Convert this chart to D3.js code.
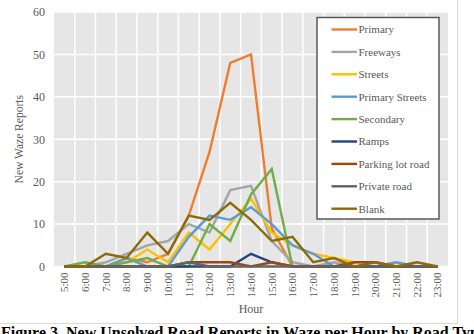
<!DOCTYPE html>
<html>
<head>
<meta charset="utf-8">
<script src="https://cdn.jsdelivr.net/npm/d3@7"></script>
<style>
    body { margin: 0; background: #fff; }
    svg { display: block; font-family: "Liberation Serif", "Times New Roman", serif; }
</style>
</head>
<body>
<div id="chart"></div>
<script>

// hours on the x axis
let hours = ["5:00", "6:00", "7:00", "8:00", "9:00", "10:00", "11:00", "12:00", "13:00", "14:00",
    "15:00", "16:00", "17:00", "18:00", "19:00", "20:00", "21:00", "22:00", "23:00"];

let yTicks = [0, 10, 20, 30, 40, 50, 60];

// one array per road type
let primary        = [0, 0, 0, 2, 1, 3, 12, 27, 48, 50, 9, 0, 0, 0, 0, 0, 0, 0, 0];
let freeways       = [0, 0, 1, 3, 5, 6, 10, 8, 18, 19, 6, 1, 0, 1, 0, 0, 0, 0, 0];
let streets        = [0, 0, 0, 1, 4, 1, 8, 4, 10, 16, 8, 5, 3, 2, 1, 1, 0, 0, 0];
let primaryStreets = [0, 0, 0, 2, 0, 0, 7, 12, 11, 14, 10, 5, 3, 0, 0, 0, 1, 0, 0];
let secondary      = [0, 1, 0, 1, 2, 0, 0, 10, 6, 17, 23, 0, 0, 0, 0, 0, 0, 0, 0];
let ramps          = [0, 0, 0, 0, 0, 0, 0, 0, 0, 3, 1, 0, 0, 0, 0, 0, 0, 0, 0];
let parkingLot     = [0, 0, 0, 0, 0, 0, 1, 1, 1, 0, 1, 0, 0, 0, 1, 1, 0, 0, 0];
let privateRoad    = [0, 0, 0, 0, 0, 0, 1, 0, 0, 0, 0, 0, 0, 0, 0, 0, 0, 0, 0];
let blank          = [0, 0, 3, 2, 8, 3, 12, 11, 15, 11, 6, 7, 1, 2, 0, 1, 0, 1, 0];

let seriesNames = ["Primary", "Freeways", "Streets", "Primary Streets", "Secondary",
    "Ramps", "Parking lot road", "Private road", "Blank"];
let seriesValues = [primary, freeways, streets, primaryStreets, secondary,
    ramps, parkingLot, privateRoad, blank];
let seriesColors = ["#ed7d31", "#a5a5a5", "#ffc000", "#5b9bd5", "#70ad47",
    "#264478", "#9e480e", "#636363", "#8c6a07"];

let series = seriesNames.map((name, i) => ({name: name, values: seriesValues[i], color: seriesColors[i]}));

let width = 474, height = 334;
let margin = {top: 12, right: 26, bottom: 67.5, left: 54};
let innerW = width - margin.left - margin.right;
let innerH = height - margin.top - margin.bottom;

let svg = d3.select("#chart").append("svg")
    .attr("width", width)
    .attr("height", height);

// outer chart frame (partly off the page)
svg.append("rect")
    .attr("x", -2).attr("y", -2)
    .attr("width", 459.5).attr("height", 325.5)
    .attr("fill", "none")
    .attr("stroke", "#d9d9d9");

let g = svg.append("g")
    .attr("transform", `translate(${margin.left}, ${margin.top})`);

// scales
let x = d3.scaleBand()
    .domain(hours)
    .range([0, innerW]);

let y = d3.scaleLinear()
    .domain([0, 60])
    .range([innerH, 0]);

// plot background
g.append("rect")
    .attr("width", innerW)
    .attr("height", innerH)
    .attr("fill", "#e7e6e6");

// horizontal grid
g.selectAll(".hgrid")
    .data(yTicks)
    .enter().append("line")
    .attr("class", "hgrid")
    .attr("x1", 0).attr("x2", innerW)
    .attr("y1", d => y(d)).attr("y2", d => y(d))
    .attr("stroke", "#fff")
    .attr("stroke-width", 1.5);

// vertical grid on category boundaries
g.selectAll(".vgrid")
    .data(hours.slice(1))
    .enter().append("line")
    .attr("class", "vgrid")
    .attr("x1", d => x(d)).attr("x2", d => x(d))
    .attr("y1", 0).attr("y2", innerH)
    .attr("stroke", "#fff")
    .attr("stroke-width", 1.5);

// y axis
let yAxis = d3.axisLeft(y)
    .tickValues(yTicks)
    .tickSize(0)
    .tickPadding(9);

g.append("g")
    .attr("class", "y-axis")
    .call(yAxis)
    .call(a => a.select(".domain").remove())
    .selectAll("text")
    .style("font-family", "'Liberation Serif', 'Times New Roman', serif")
    .style("font-size", "12px")
    .attr("fill", "#595959");

// x axis with rotated labels
let xAxis = d3.axisBottom(x)
    .tickSize(0)
    .tickPadding(0);

g.append("g")
    .attr("class", "x-axis")
    .attr("transform", `translate(0, ${innerH})`)
    .call(xAxis)
    .call(a => a.select(".domain").remove())
    .selectAll("text")
    .style("font-family", "'Liberation Serif', 'Times New Roman', serif")
    .style("font-size", "11px")
    .attr("fill", "#595959")
    .attr("text-anchor", "end")
    .attr("dy", "0.35em")
    .attr("transform", "translate(0, 6) rotate(-90)");

// axis titles
svg.append("text")
    .attr("transform", `translate(23, ${margin.top + innerH / 2}) rotate(-90)`)
    .attr("text-anchor", "middle")
    .attr("fill", "#595959")
    .style("font-size", "11.5px")
    .text("New Waze Reports");

svg.append("text")
    .attr("x", margin.left + innerW / 2)
    .attr("y", 313)
    .attr("text-anchor", "middle")
    .attr("fill", "#595959")
    .style("font-size", "12px")
    .text("Hour");

// lines
let line = d3.line()
    .x((d, i) => x(hours[i]) + x.bandwidth() / 2)
    .y(d => y(d));

g.selectAll(".series")
    .data(series)
    .enter().append("path")
    .attr("class", "series")
    .attr("d", d => line(d.values))
    .attr("fill", "none")
    .attr("stroke", d => d.color)
    .attr("stroke-width", 2.4)
    .attr("stroke-linejoin", "miter")
    .attr("stroke-linecap", "butt");

// legend
let legend = svg.append("g")
    .attr("transform", "translate(317, 17.5)");

legend.append("rect")
    .attr("width", 122)
    .attr("height", 201.5)
    .attr("fill", "#fff")
    .attr("stroke", "#595959")
    .attr("stroke-width", 1.5);

let items = legend.selectAll(".item")
    .data(series)
    .enter().append("g")
    .attr("class", "item")
    .attr("transform", (d, i) => `translate(0, ${12 + i * 22.4})`);

items.append("line")
    .attr("x1", 14.5).attr("x2", 40)
    .attr("stroke", d => d.color)
    .attr("stroke-width", 2.4);

items.append("text")
    .attr("x", 41.5)
    .attr("dy", "0.35em")
    .attr("fill", "#595959")
    .style("font-size", "11px")
    .text(d => d.name);

// figure caption, cut by the bottom of the page like in the source figure
svg.append("text")
    .attr("x", 1)
    .attr("y", 338)
    .attr("fill", "#000")
    .style("font-size", "16px")
    .style("font-weight", "bold")
    .text("Figure 3. New Unsolved Road Reports in Waze per Hour by Road Type");

</script>
</body>
</html>
